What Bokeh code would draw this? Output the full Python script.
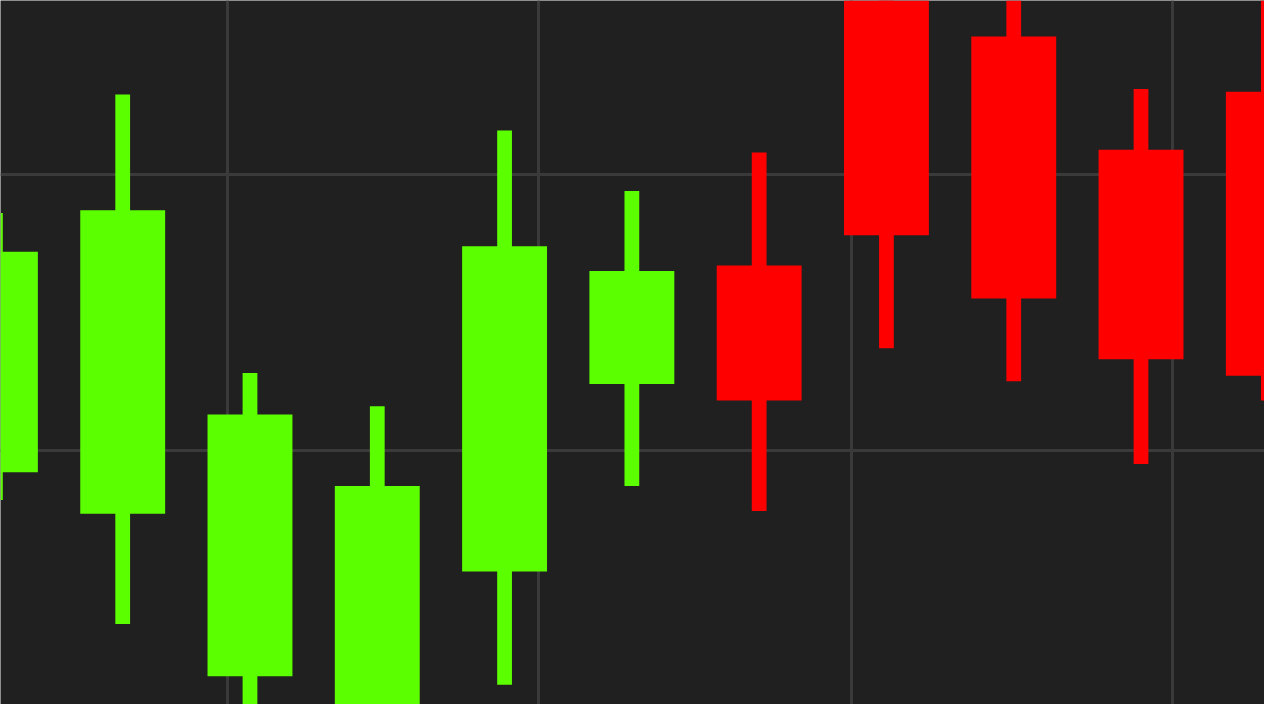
from bokeh.plotting import figure
from bokeh.models import ColumnDataSource, Range1d, FixedTicker
from bokeh.embed import file_html
from bokeh.resources import INLINE

# Session index and OHLC prices
session = [0, 1, 2, 3, 4, 5, 6, 7, 8, 9, 10]
opens  = [99.2, 97.7, 91.8, 89.3, 95.6, 102.4, 106.7, 117.7, 115.0, 110.9, 113.0]
closes = [107.2, 108.7, 101.3, 98.7, 107.4, 106.5, 101.8, 107.8, 105.5, 103.3, 102.7]
highs  = [108.6, 112.9, 102.8, 101.6, 111.6, 109.4, 110.8, 119.2, 116.7, 113.1, 117.4]
lows   = [98.2, 93.7, 90.1, 88.7, 91.5, 98.7, 97.8, 103.7, 102.5, 99.5, 101.8]

price_grid = [100, 110]
time_grid = [1.824, 4.268, 6.727, 9.248]

UP = "#5cff00"
DOWN = "#ff0000"
colors = [UP if c >= o else DOWN for o, c in zip(opens, closes)]
tops = [max(o, c) for o, c in zip(opens, closes)]
bottoms = [min(o, c) for o, c in zip(opens, closes)]

src = ColumnDataSource(dict(x=session, high=highs, low=lows, top=tops,
                            bottom=bottoms, color=colors))

p = figure(width=1264, height=704, output_backend="svg", toolbar_location=None,
           x_range=Range1d(0.04, 9.97), y_range=Range1d(90.78, 116.31),
           min_border=0, outline_line_color=None)
p.background_fill_color = "#202020"
p.border_fill_color = "#202020"
p.axis.visible = False

p.xgrid.ticker = FixedTicker(ticks=time_grid)
p.ygrid.ticker = FixedTicker(ticks=price_grid)
p.grid.grid_line_color = "#3a3a3a"
p.grid.grid_line_width = 3

p.vbar(x="x", top="high", bottom="low", width=0.116, fill_color="color",
       line_color=None, source=src)
p.vbar(x="x", top="top", bottom="bottom", width=0.667, fill_color="color",
       line_color=None, source=src)

open("out.html", "w").write(file_html(p, INLINE))
